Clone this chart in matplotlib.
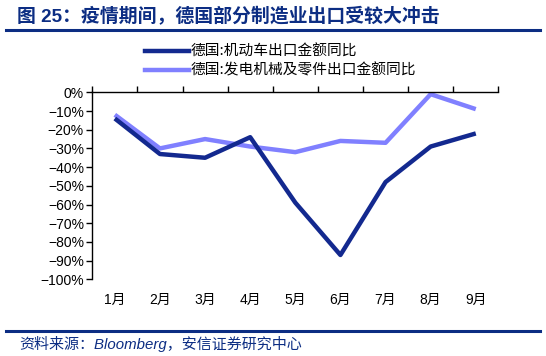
import numpy as np
import matplotlib
import matplotlib.pyplot as plt
from matplotlib.lines import Line2D
from matplotlib.ticker import FixedLocator, PercentFormatter

matplotlib.use('agg')

plt.rcParams['font.family'] = ['Liberation Sans', 'Noto Sans CJK SC', 'DejaVu Sans']

months = ['1月', '2月', '3月', '4月', '5月', '6月', '7月', '8月', '9月']
vehicle = [-14, -33, -35, -24, -59, -87, -48, -29, -22]
generator = [-12, -30, -25, -29, -32, -26, -27, -1, -9]
series_names = ['德国:机动车出口金额同比', '德国:发电机械及零件出口金额同比']

dark = '#13298f'
light = '#8080ff'
navy = '#0c2d83'

fig = plt.figure(figsize=(5.46, 3.56), dpi=100)

# title + rules
fig.text(0.032, 0.955, '图 25：疫情期间，德国部分制造业出口受较大冲击',
         fontsize=13.6, fontweight='bold', color=navy, va='center',
         family=['Liberation Sans', 'Noto Sans CJK SC', 'DejaVu Sans'])
fig.add_artist(Line2D([0.011, 0.989], [0.915, 0.915], color=navy, lw=2.2))
fig.add_artist(Line2D([0.011, 0.989], [0.07, 0.07], color=navy, lw=2.2))
fig.text(0.035, 0.034, '资料来源：Bloomberg，安信证券研究中心', fontsize=10.8,
         style='italic', color=navy, va='center',
         family=['Liberation Sans', 'Noto Sans CJK SC', 'DejaVu Sans'])

ax = fig.add_axes([0.169, 0.2154, 0.7437, 0.5253])
x = np.arange(1, len(months) + 1)
ax.plot(x, vehicle, color=dark, lw=3.2, solid_capstyle='butt', zorder=3)
ax.plot(x, generator, color=light, lw=3.2, solid_capstyle='butt', zorder=2)

ax.set_xlim(0.5, len(months) + 0.5)
ax.set_ylim(-100, 0)
ax.set_yticks(np.arange(-100, 1, 10))
ax.yaxis.set_major_formatter(PercentFormatter(decimals=0))

ax.xaxis.set_major_locator(FixedLocator(np.arange(0.5, len(months) + 1, 1)))
ax.xaxis.set_minor_locator(FixedLocator(x))
ax.set_xticklabels([], minor=False)
ax.set_xticklabels(months, minor=True)
ax.tick_params(axis='x', which='major', top=True, bottom=False, labelbottom=False,
               direction='out', length=4, width=1)
ax.tick_params(axis='x', which='minor', bottom=True, top=False, length=0,
               labelbottom=True, pad=10, labelsize=10)
ax.tick_params(axis='y', direction='out', length=4, width=1, labelsize=10, pad=2)

for s in ['right', 'bottom']:
    ax.spines[s].set_visible(False)
for s in ['left', 'top']:
    ax.spines[s].set_linewidth(1)

handles = [Line2D([], [], color=dark, lw=3.2), Line2D([], [], color=light, lw=3.2)]
fig.legend(handles, series_names, loc='upper left', bbox_to_anchor=(0.255, 0.89),
           frameon=False, handlelength=3.0, handletextpad=0.1,
           labelspacing=0.3, borderaxespad=0,
           prop={'family': ['Noto Sans CJK SC', 'DejaVu Sans'], 'size': 10.6})

fig.savefig('out.png', dpi=100, facecolor='white')
